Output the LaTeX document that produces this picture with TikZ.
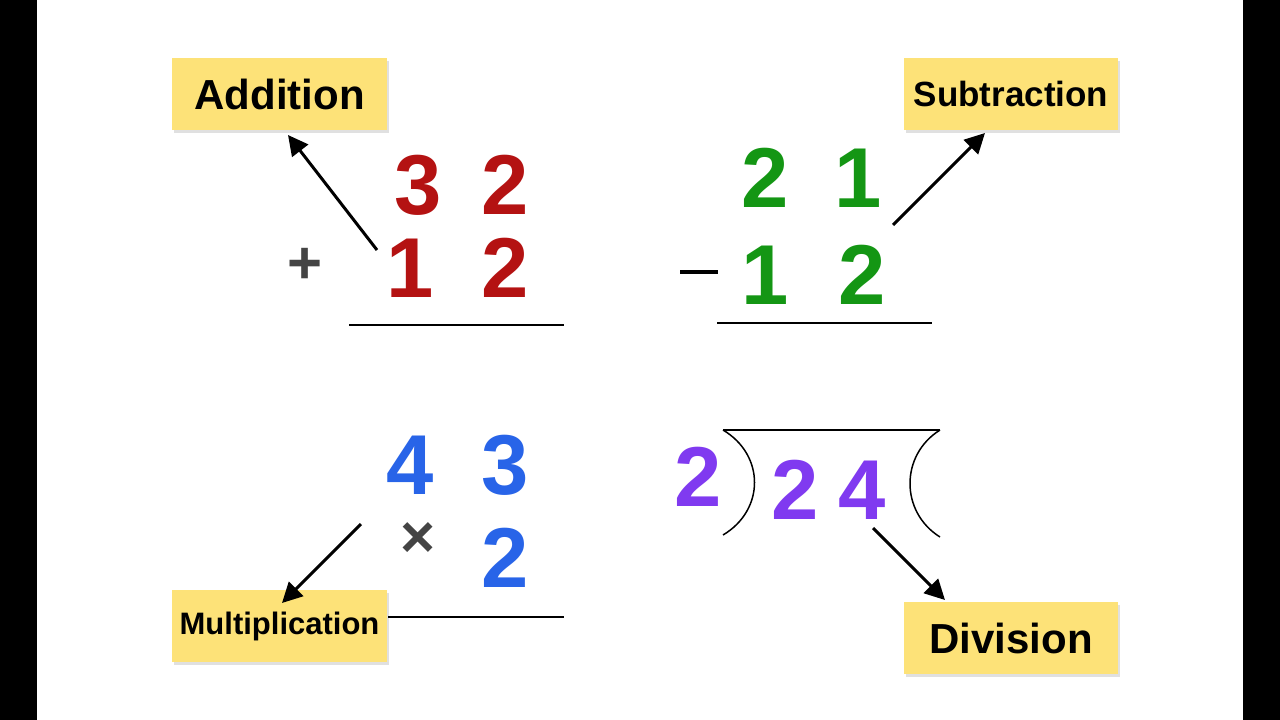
\documentclass[tikz,border=0pt]{standalone}
\usepackage{fontspec}
\setmainfont{Liberation Sans}
\usetikzlibrary{arrows.meta}
\definecolor{lab}{RGB}{253,226,120}
\definecolor{rd}{RGB}{180,18,18}
\definecolor{gn}{RGB}{20,150,20}
\definecolor{bl}{RGB}{40,100,232}
\definecolor{pu}{RGB}{128,58,240}
\definecolor{op}{RGB}{68,68,68}
\begin{document}
\begin{tikzpicture}[x=1pt,y=-1pt,
  labelbox/.style={fill=lab,inner sep=0pt,anchor=center},
  dig/.style={font=\fontsize{85}{85}\selectfont\bfseries,inner sep=0pt,anchor=center},
  arr/.style={line width=3pt,-{Triangle[length=20pt,width=20pt]}},
  rule/.style={line width=1.5pt}]
\fill[black] (0,0) rectangle (1280,720);
\fill[white] (37,0) rectangle (1243,720);
\useasboundingbox (0,0) rectangle (1280,720);
% label boxes
\fill[black!12] (174,61) rectangle (389,133);
\node[labelbox,minimum width=215pt,minimum height=72pt,font=\fontsize{42}{42}\selectfont\bfseries] (add) at (279.5,94) {Addition};
\fill[black!12] (906,61) rectangle (1120,133);
\node[labelbox,minimum width=214pt,minimum height=72pt,font=\fontsize{35}{35}\selectfont\bfseries] (sub) at (1011,94) {Subtraction};
\fill[black!12] (174,593) rectangle (389,665);
\node[labelbox,minimum width=215pt,minimum height=72pt,font=\fontsize{31}{31}\selectfont\bfseries] (mul) at (279.5,626) {Multiplication};
\fill[black!12] (906,605) rectangle (1120,677);
\node[labelbox,minimum width=214pt,minimum height=72pt,font=\fontsize{42}{42}\selectfont\bfseries] (div) at (1011,638) {Division};
% addition
\node[dig,text=rd] (a3) at (418,185) {3};
\node[dig,text=rd] (a2) at (505,185) {2};
\node[dig,text=rd] (b1) at (410,268) {1};
\node[dig,text=rd] (b2) at (505,268) {2};
\node[dig,text=op,font=\fontsize{60}{60}\selectfont\bfseries] (plus) at (305,266) {+};
\coordinate (al) at (349,325); \coordinate (ar) at (564,325);
\draw[rule] (al) -- (ar);
\coordinate (aa) at (377,250);
\draw[arr] (aa) -- (288,135) coordinate (aat);
% subtraction
\node[dig,text=gn] (s2) at (765,178) {2};
\node[dig,text=gn] (s1) at (858,178) {1};
\node[dig,text=gn] (t1) at (765,275) {1};
\node[dig,text=gn] (t2) at (862,275) {2};
\coordinate (m1) at (680,272); \coordinate (m2) at (718,272);
\draw[line width=4pt,black] (m1) -- (m2);
\coordinate (sl) at (717,323); \coordinate (sr) at (932,323);
\draw[rule] (sl) -- (sr);
\coordinate (sa) at (893,225);
\draw[arr] (sa) -- (985,133) coordinate (sat);
% multiplication
\node[dig,text=bl] (m4) at (410,465) {4};
\node[dig,text=bl] (m3) at (505,465) {3};
\node[dig,text=bl] (n2) at (505,558) {2};
\node[text=op,inner sep=0pt,font=\fontsize{60}{60}\selectfont\bfseries] (times) at (418,540) {×};
\coordinate (ml) at (388,617); \coordinate (mr) at (564,617);
\draw[rule] (ml) -- (mr);
\coordinate (ma) at (361,524);
\draw[arr] (ma) -- (282,603) coordinate (mat);
% division
\node[dig,text=pu] (d2) at (698,477) {2};
\node[dig,text=pu] (e2) at (795,490) {2};
\node[dig,text=pu] (e4) at (862,490) {4};
\coordinate (p1) at (723,430); \coordinate (p2) at (723,535);
\draw[rule] (p1) .. controls (765,455) and (765,510) .. (p2);
\coordinate (q1) at (940,430); \coordinate (q2) at (940,537);
\draw[rule] (p1) -- (q1);
\draw[rule] (q1) .. controls (900,455) and (900,512) .. (q2);
\coordinate (da) at (873,528);
\draw[arr] (da) -- (945,600) coordinate (dat);
\end{tikzpicture}
\end{document}
